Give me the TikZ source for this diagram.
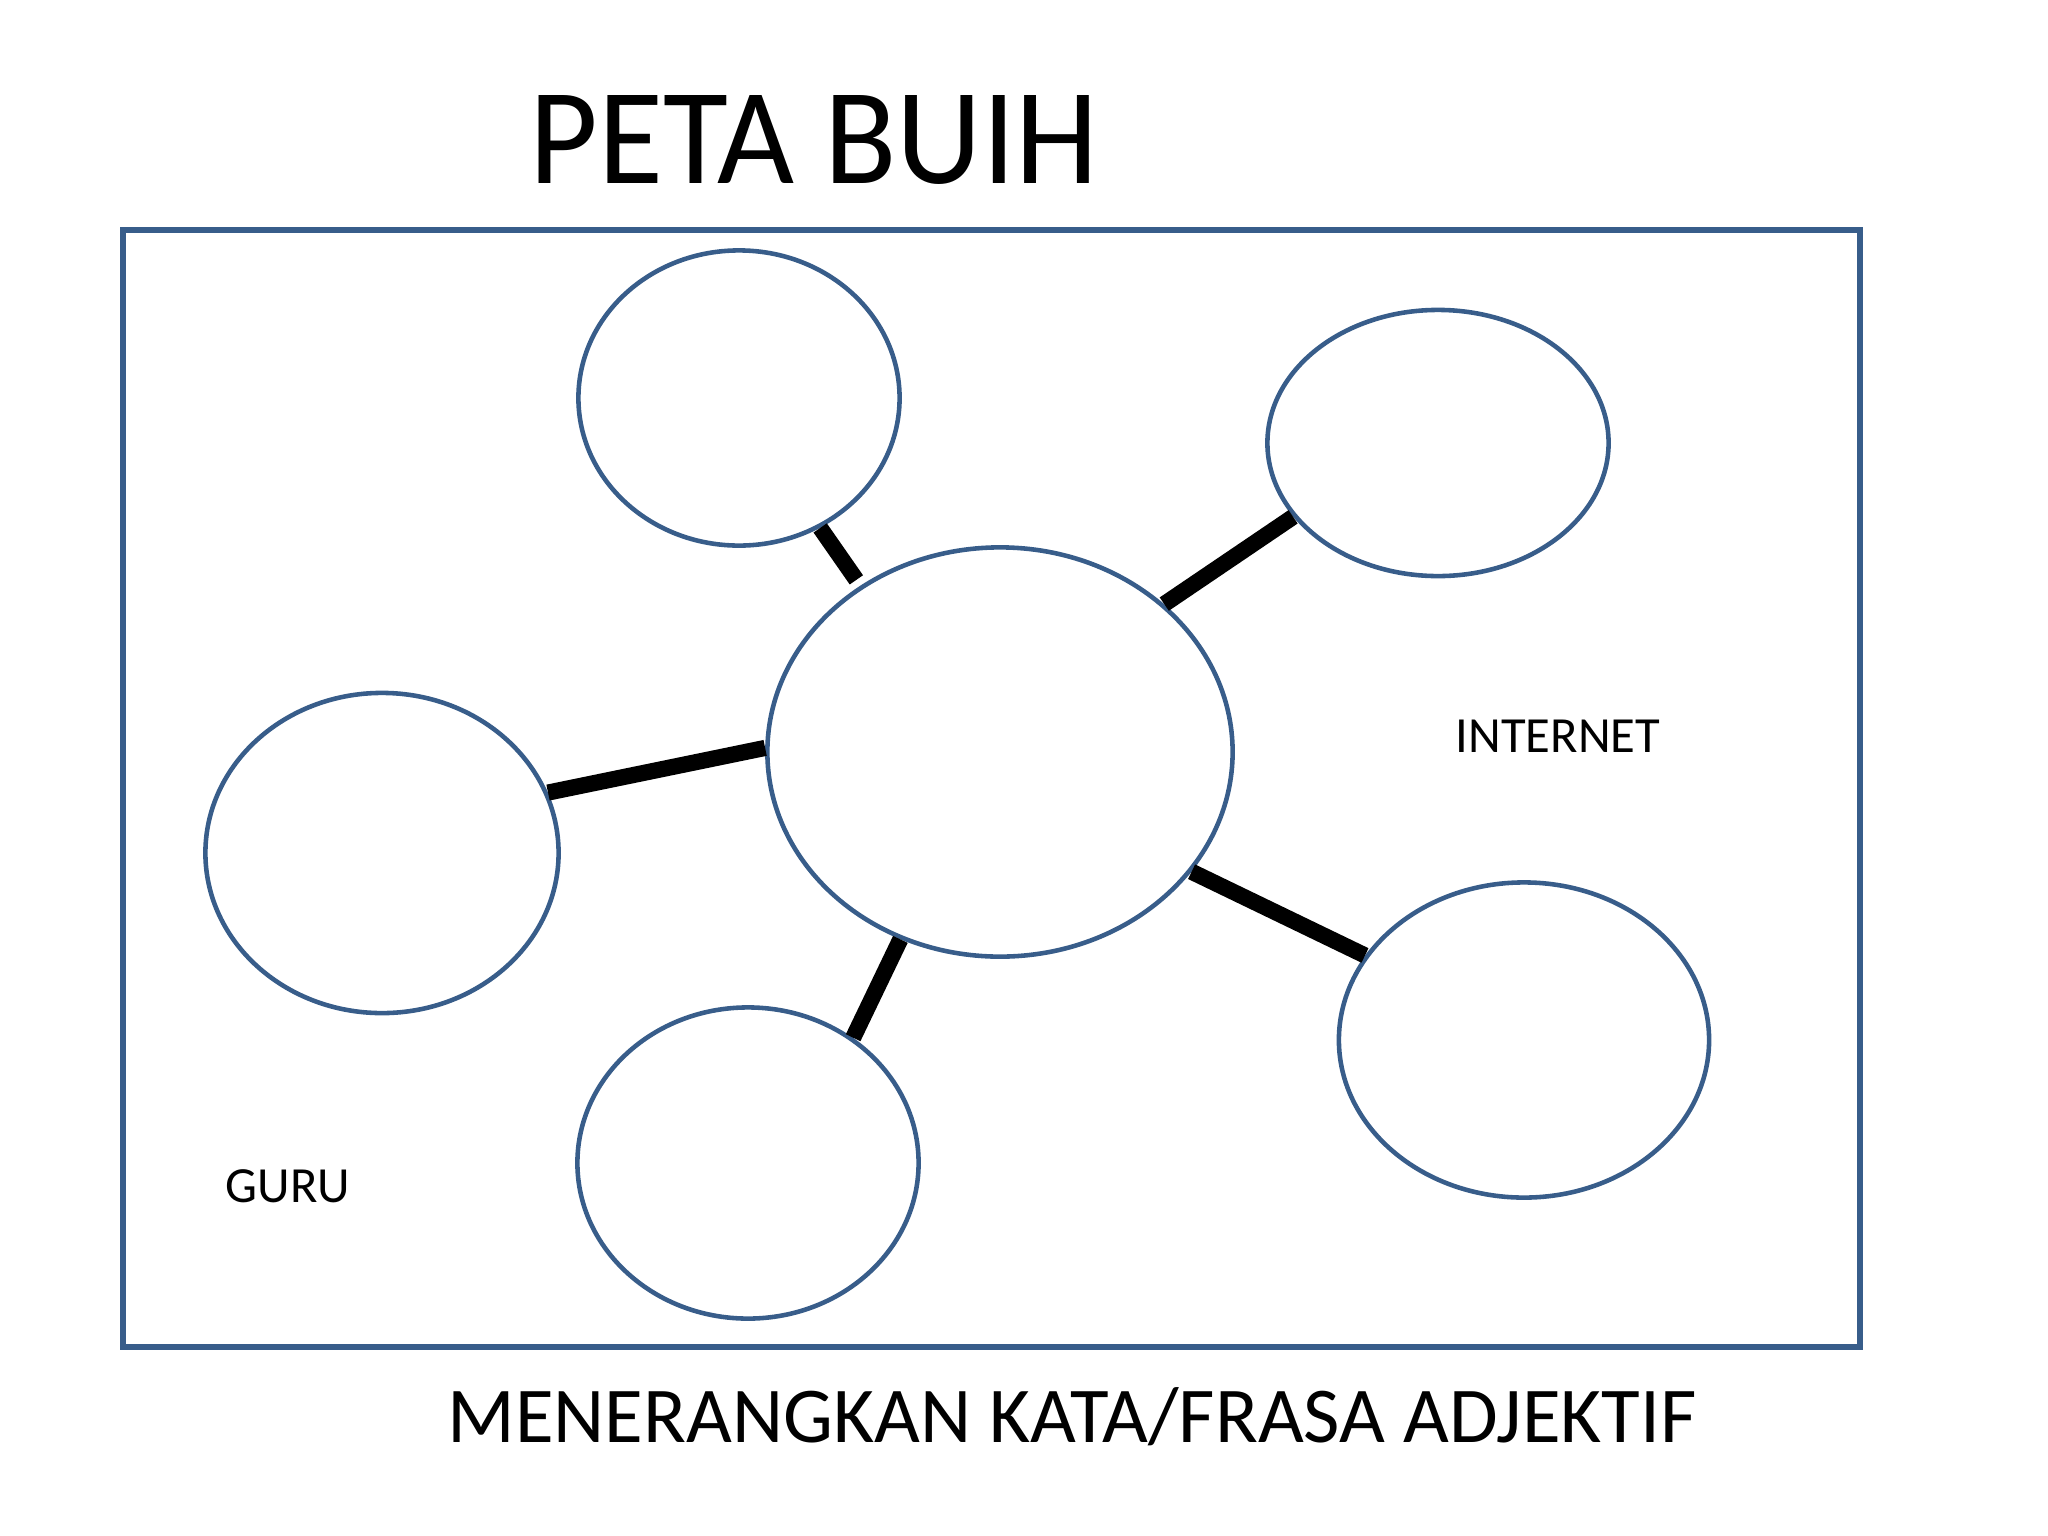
\documentclass[tikz,border=0pt]{standalone}
\usepackage{fontspec}
\setmainfont{Carlito}
\usetikzlibrary{shapes.geometric}
\definecolor{garis}{RGB}{56,93,138}

\begin{document}
\begin{tikzpicture}[x=0.01cm, y=-0.01cm,
  buih/.style = {draw=garis, line width=1.3pt, ellipse, inner sep=0pt},
  sambung/.style = {line width=4.6pt, black},
  teks/.style = {anchor=base, inner sep=0pt}]
\useasboundingbox (0,0) rectangle (2048,1536);
\draw[garis, line width=1.5pt] (123,230) rectangle (1860,1347);
\node[teks, font=\fontsize{39}{40}\selectfont\addfontfeature{FakeStretch=0.97}] (tajuk) at (814,183) {PETA BUIH};
\node[teks, font=\fontsize{22.5}{24}\selectfont] (kapsyen) at (1072,1442) {MENERANGKAN KATA/FRASA ADJEKTIF};
\node[teks, font=\fontsize{14.4}{16}\selectfont] (internet) at (1558,752) {INTERNET};
\node[teks, font=\fontsize{14.4}{16}\selectfont] (guru) at (288,1202) {GURU};
\node[buih, minimum width=4.65cm, minimum height=4.09cm] (pusat) at (1000,752) {};
\node[buih, minimum width=3.21cm, minimum height=2.95cm] (atas) at (739,398) {};
\node[buih, minimum width=3.41cm, minimum height=2.66cm] (kananatas) at (1438,443) {};
\node[buih, minimum width=3.53cm, minimum height=3.20cm] (kiri) at (382,853) {};
\node[buih, minimum width=3.41cm, minimum height=3.11cm] (bawah) at (748,1163) {};
\node[buih, minimum width=3.70cm, minimum height=3.15cm] (kananbawah) at (1524,1040) {};
\draw[sambung, shorten >=2pt] (atas.-58) -- (pusat.130);
\draw[sambung] (pusat.42) -- (kananatas.207);
\draw[sambung] (kiri.20) -- (pusat.179);
\draw[sambung] (bawah.50) -- (pusat.242);
\draw[sambung] (pusat.-32) -- (kananbawah.152);
\end{tikzpicture}
\end{document}
